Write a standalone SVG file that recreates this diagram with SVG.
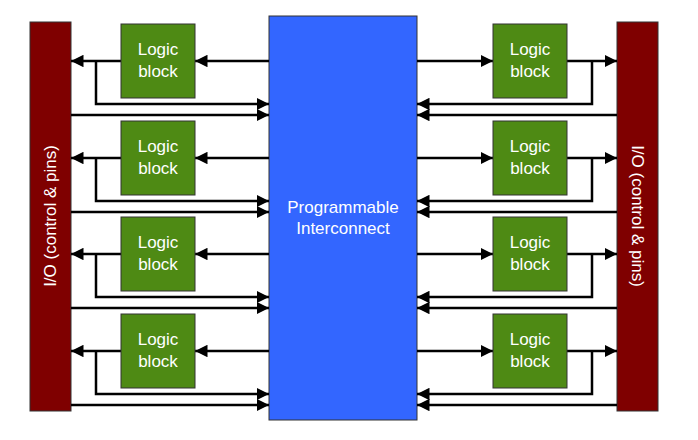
<svg xmlns="http://www.w3.org/2000/svg" width="698" height="440" viewBox="0 0 698 440">
<style>
.io{fill:#7f0000;stroke:#333;stroke-width:1}
.lb{fill:#4e8a14;stroke:#333;stroke-width:1}
.ic{fill:#3366ff;stroke:#333;stroke-width:1}
text{font-family:"Liberation Sans",Arial,sans-serif;fill:#fff;font-size:17px;text-anchor:middle}
</style>
<defs>
<marker id="a" viewBox="0 0 10 10" refX="10" refY="5" markerWidth="5" markerHeight="5" orient="auto" markerUnits="strokeWidth"><path d="M0,0L10,5L0,10z" fill="#000"/></marker>
<g id="L" fill="none" stroke="#000" stroke-width="2.5" marker-end="url(#a)"><path d="M269,61H195"/><path d="M121,61H71"/><path d="M96,61V104H269"/><path d="M71,115H269"/></g>
<g id="R" fill="none" stroke="#000" stroke-width="2.5" marker-end="url(#a)"><path d="M417,61H493"/><path d="M567,61H617"/><path d="M592,61V104H417"/><path d="M617,115H417"/></g>
</defs>
<g id="io-left"><rect class="io" x="30" y="22" width="41" height="389"/><text transform="translate(56,216) rotate(-90)">I/O (control &amp; pins)</text></g>
<g id="io-right"><rect class="io" x="617" y="22" width="41" height="389"/><text transform="translate(632,216) rotate(90)">I/O (control &amp; pins)</text></g>
<g id="interconnect"><rect class="ic" x="269" y="16" width="148" height="404"/><text x="343" y="213">Programmable</text><text x="343" y="234">Interconnect</text></g>
<g id="connectors">
<use href="#L"/><use href="#L" y="97"/><use href="#L" y="193"/><use href="#L" y="290"/>
<use href="#R"/><use href="#R" y="97"/><use href="#R" y="193"/><use href="#R" y="290"/>
</g>
<g id="lb-l1"><rect class="lb" x="121" y="24" width="74" height="74"/><text x="158" y="55">Logic</text><text x="158" y="77">block</text></g>
<g id="lb-l2"><rect class="lb" x="121" y="121" width="74" height="74"/><text x="158" y="152">Logic</text><text x="158" y="174">block</text></g>
<g id="lb-l3"><rect class="lb" x="121" y="217" width="74" height="74"/><text x="158" y="248">Logic</text><text x="158" y="270">block</text></g>
<g id="lb-l4"><rect class="lb" x="121" y="314" width="74" height="74"/><text x="158" y="345">Logic</text><text x="158" y="367">block</text></g>
<g id="lb-r1"><rect class="lb" x="493" y="24" width="74" height="74"/><text x="530" y="55">Logic</text><text x="530" y="77">block</text></g>
<g id="lb-r2"><rect class="lb" x="493" y="121" width="74" height="74"/><text x="530" y="152">Logic</text><text x="530" y="174">block</text></g>
<g id="lb-r3"><rect class="lb" x="493" y="217" width="74" height="74"/><text x="530" y="248">Logic</text><text x="530" y="270">block</text></g>
<g id="lb-r4"><rect class="lb" x="493" y="314" width="74" height="74"/><text x="530" y="345">Logic</text><text x="530" y="367">block</text></g>
</svg>
